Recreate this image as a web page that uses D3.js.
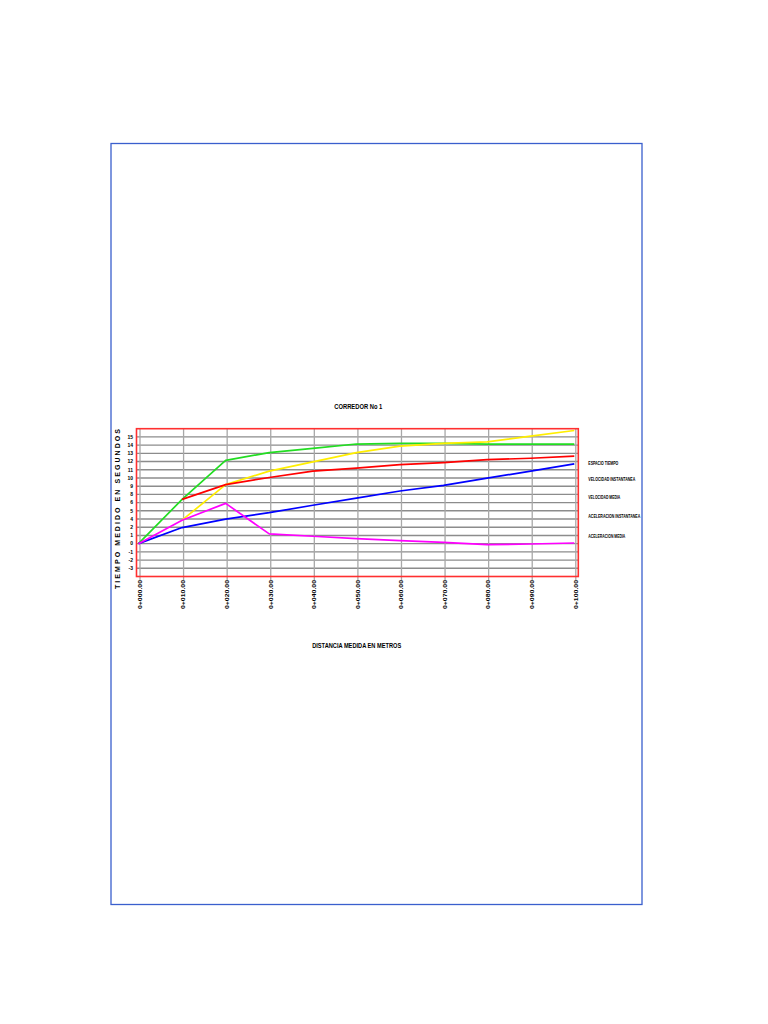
<!DOCTYPE html>
<html>
<head>
<meta charset="utf-8">
<script src="https://cdn.jsdelivr.net/npm/d3@7"></script>
<style>
  body { margin: 0; background: #fff; }
  text { font-family: "Liberation Sans Narrow", "Liberation Sans", Arial, sans-serif; font-weight: bold; fill: #000; }
</style>
</head>
<body>
<div id="grafico"></div>
<script>
/*global d3*/
// distancias (m) y etiquetas del eje horizontal
var distancias = [0, 10, 20, 30, 40, 50, 60, 70, 80, 90, 100];
var etiquetasX = ["0+000.00", "0+010.00", "0+020.00", "0+030.00", "0+040.00", "0+050.00",
                  "0+060.00", "0+070.00", "0+080.00", "0+090.00", "0+100.00"];

// eje vertical: la rejilla va cada 15/13, las etiquetas vienen redondeadas
var pasosY = [-3, -2, -1, 0, 1, 2, 3, 4, 5, 6, 7, 8, 9, 10, 11, 12, 13];
var etiquetasY = ["-3", "-2", "-1", "0", "1", "2", "4", "5", "6", "8", "9", "10", "11", "12", "13", "14", "15"];

// series
var espacioTiempo = [0, 6.22, 11.7, 12.8, 13.4, 14.0, 14.1, 14.1, 14.0, 14.0, 14.0];
var velocidadInstantanea = [null, 6.22, 8.3, 9.3, 10.2, 10.6, 11.1, 11.4, 11.8, 12.0, 12.3];
var velocidadMedia = [null, 3.3, 8.3, 10.2, 11.5, 12.8, 13.7, 14.1, 14.3, 15.1, 15.9];
var aceleracionInstantanea = [0, 3.3, 5.66, 1.37, 1.04, 0.7, 0.42, 0.19, -0.15, -0.05, 0.09];
var aceleracionMedia = [0, 2.26, 3.44, 4.35, 5.4, 6.4, 7.4, 8.2, 9.2, 10.2, 11.2];

var leyenda = ["ESPACIO TIEMPO", "VELOCIDAD INSTANTANEA", "VELOCIDAD MEDIA",
               "ACELERACION INSTANTANEA", "ACELERACION MEDIA"];

var series = [
    { valores: espacioTiempo, color: "#22dd22" },
    { valores: velocidadMedia, color: "#ffee00" },
    { valores: velocidadInstantanea, color: "#ff0000" },
    { valores: aceleracionMedia, color: "#0000ff" },
    { valores: aceleracionInstantanea, color: "#ff00ff" }
];

var paso = 15 / 13;

var svg = d3.select("#grafico").append("svg")
    .attr("width", 768)
    .attr("height", 1024);

svg.append("rect")
    .attr("width", 768).attr("height", 1024)
    .attr("fill", "#fff");

// marco de la hoja
svg.append("rect")
    .attr("x", 111).attr("y", 143.5)
    .attr("width", 531).attr("height", 761)
    .attr("fill", "none")
    .attr("stroke", "#3a5fcd")
    .attr("stroke-width", 1.3);

var x = d3.scaleLinear()
    .domain([0, 100])
    .range([138.5, 574.3]);
var y = d3.scaleLinear()
    .domain([-4 * paso, 14 * paso])
    .range([576.5, 428.7]);

// rejilla horizontal
svg.append("g")
    .selectAll("line")
    .data(pasosY)
    .join("line")
    .attr("x1", 136.5)
    .attr("x2", 578.3)
    .attr("y1", function(d) { return y(d * paso); })
    .attr("y2", function(d) { return y(d * paso); })
    .attr("stroke", "#8c8c8c")
    .attr("stroke-width", 1.4);

// rejilla vertical
svg.append("g")
    .selectAll("line")
    .data(distancias)
    .join("line")
    .attr("x1", function(d) { return x(d) + 1.5; })
    .attr("x2", function(d) { return x(d) + 1.5; })
    .attr("y1", 428.7)
    .attr("y2", 580)
    .attr("stroke", "#a8a8a8")
    .attr("stroke-width", 1.3);

// borde rojo del gráfico
svg.append("rect")
    .attr("x", 136.5).attr("y", 428.7)
    .attr("width", 441.8).attr("height", 147.8)
    .attr("fill", "none")
    .attr("stroke", "#ff3030")
    .attr("stroke-width", 1.6);

// etiquetas eje Y
svg.append("g")
    .selectAll("text")
    .data(pasosY)
    .join("text")
    .attr("x", 133)
    .attr("y", function(d) { return y(d * paso) + 1.8; })
    .attr("text-anchor", "end")
    .style("font-size", "5px")
    .text(function(d, i) { return etiquetasY[i]; });

// etiquetas eje X
svg.append("g")
    .selectAll("text")
    .data(distancias)
    .join("text")
    .attr("transform", function(d) { return "translate(" + (x(d) + 3.3) + ",580) rotate(-90)"; })
    .attr("text-anchor", "end")
    .attr("textLength", 29)
    .attr("lengthAdjust", "spacingAndGlyphs")
    .style("font-size", "5px")
    .text(function(d, i) { return etiquetasX[i]; });

// líneas
var linea = d3.line()
    .defined(function(d) { return d != null; })
    .x(function(d, i) { return x(distancias[i]); })
    .y(function(d) { return y(d); });

svg.append("g")
    .selectAll("path")
    .data(series)
    .join("path")
    .attr("fill", "none")
    .attr("stroke", function(d) { return d.color; })
    .attr("stroke-width", 1.7)
    .attr("stroke-linejoin", "round")
    .attr("d", function(d) { return linea(d.valores); });

// leyenda (solo texto)
var leyendaY = [463.5, 479.5, 497, 516.5, 536.5];
var leyendaAncho = [30, 47, 32, 52, 37];
svg.append("g")
    .selectAll("text")
    .data(leyenda)
    .join("text")
    .attr("x", 588.3)
    .attr("y", function(d, i) { return leyendaY[i] + 1.8; })
    .attr("textLength", function(d, i) { return leyendaAncho[i]; })
    .attr("lengthAdjust", "spacingAndGlyphs")
    .style("font-size", "5px")
    .text(function(d) { return d; });

// títulos
svg.append("text")
    .attr("x", 358.3).attr("y", 408.5)
    .attr("text-anchor", "middle")
    .attr("textLength", 48)
    .attr("lengthAdjust", "spacingAndGlyphs")
    .style("font-size", "8px")
    .text("CORREDOR No 1");

svg.append("text")
    .attr("x", 356.7).attr("y", 647.5)
    .attr("text-anchor", "middle")
    .attr("textLength", 89)
    .attr("lengthAdjust", "spacingAndGlyphs")
    .style("font-size", "8px")
    .text("DISTANCIA MEDIDA EN METROS");

svg.append("text")
    .attr("transform", "translate(120,509) rotate(-90)")
    .attr("text-anchor", "middle")
    .attr("textLength", 160)
    .attr("lengthAdjust", "spacing")
    .style("font-size", "7px")
    .text("TIEMPO MEDIDO EN SEGUNDOS");
</script>
</body>
</html>
